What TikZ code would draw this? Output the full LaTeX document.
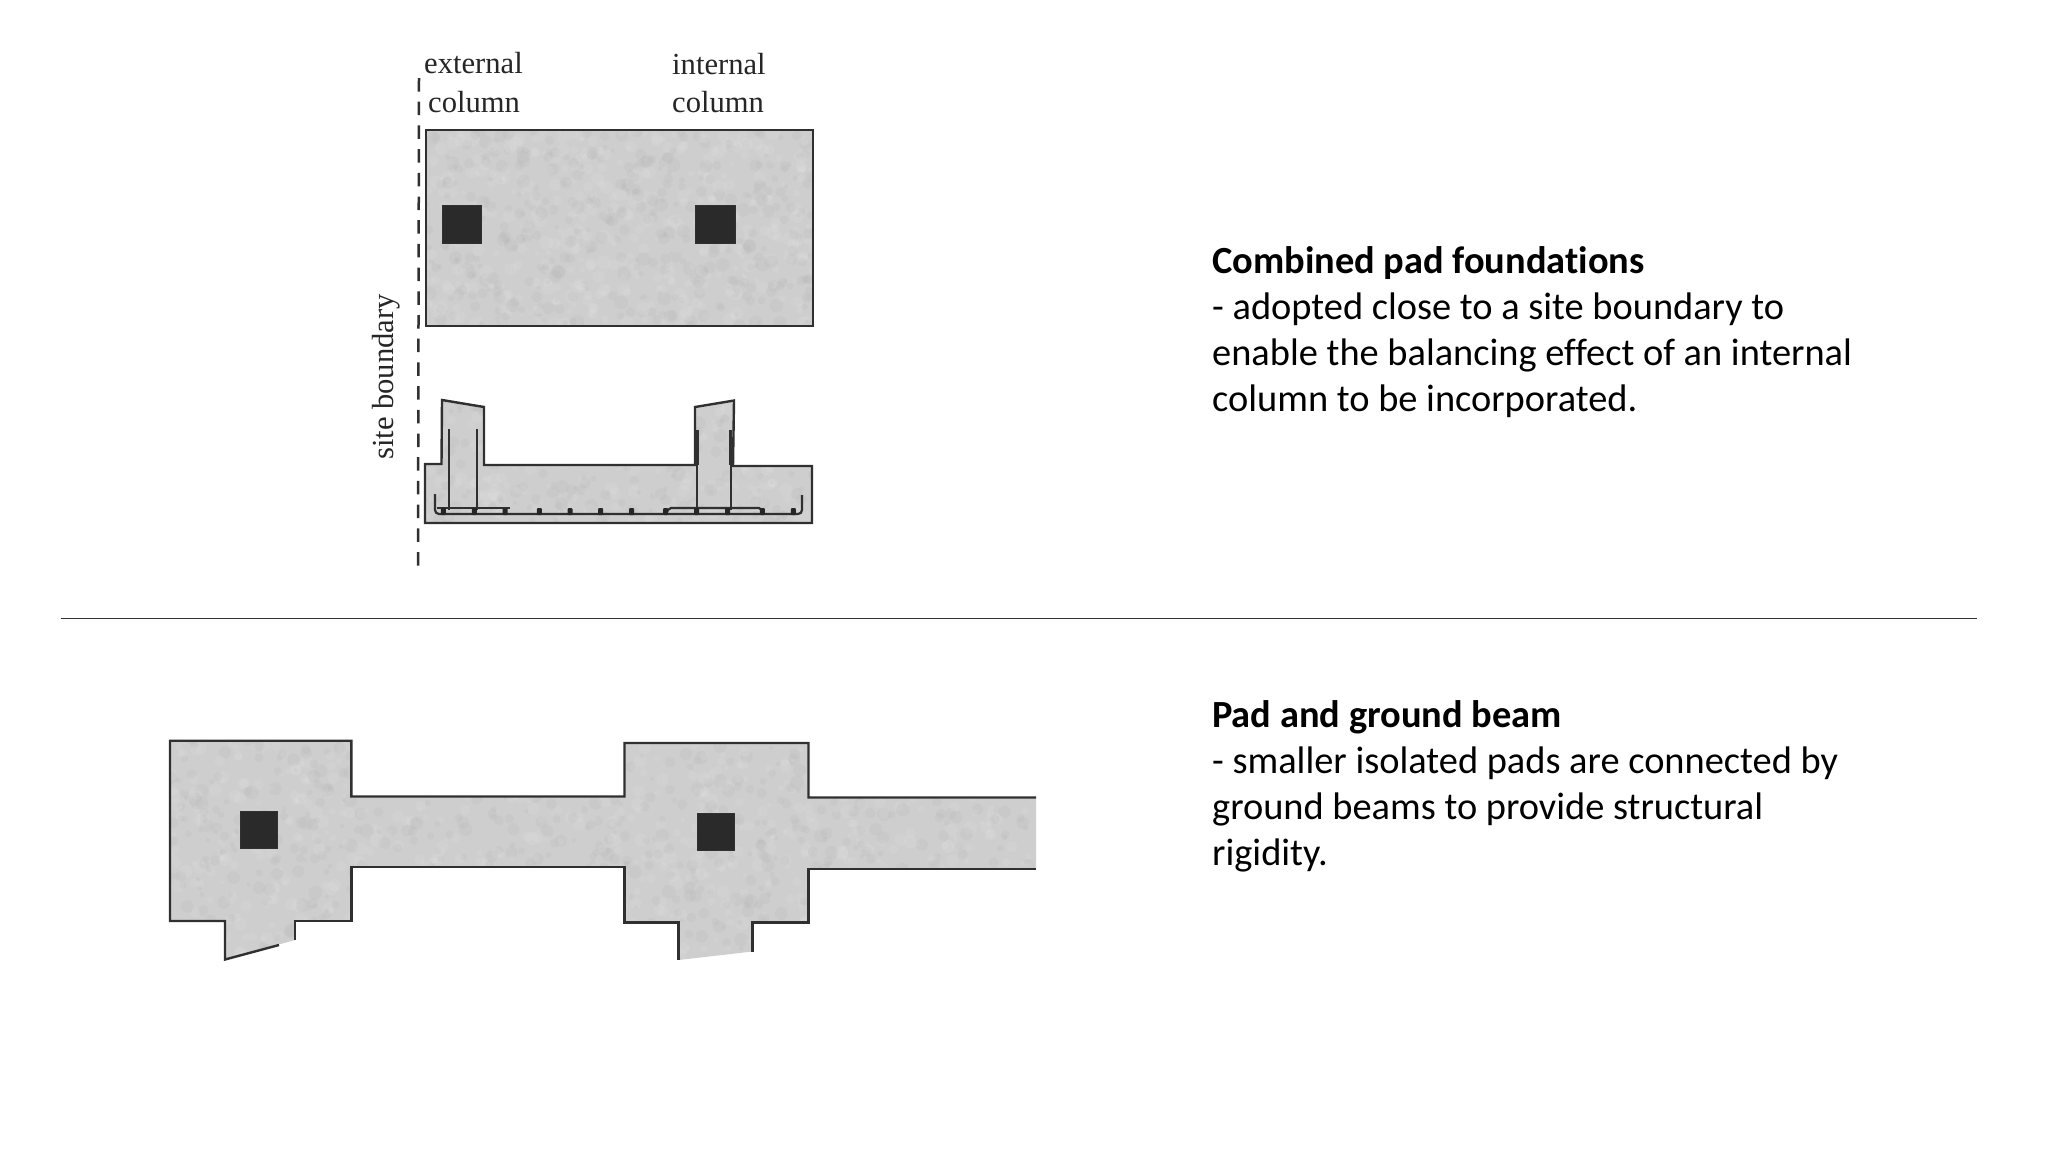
\documentclass[tikz,border=0pt]{standalone}
\usepackage{fontspec}
\setmainfont[Ligatures=NoCommon]{Carlito}
\newfontfamily\scanfont{Liberation Serif}
\tikzset{
  every picture/.style={x=1pt,y=-1pt},
  conc/.style={fill=concgrey,draw=none},
  edge/.style={draw=inkgrey,line width=2.4pt,line join=miter},
  colsq/.style={fill=coldark,draw=inkgrey,line width=.8pt},
  bar/.style={draw=inkgrey,line width=2.2pt},
  rebardot/.style={fill=black!85,draw=none,minimum width=5pt,minimum height=7pt,inner sep=0pt,rounded corners=1pt},
  scanlabel/.style={font=\scanfont\fontsize{30.6}{30.6}\selectfont,text=black!85,inner sep=0pt,anchor=base west},
  notes/.style={font=\fontsize{38.4}{46.2}\selectfont,align=left,inner sep=0pt,anchor=north west,text=black}
}
\definecolor{concgrey}{HTML}{CECECE}
\definecolor{inkgrey}{HTML}{303030}
\definecolor{coldark}{HTML}{2A2A2A}
\newcommand{\mottle}[5]{%
  \foreach \k in {1,...,#5}{%
    \pgfmathsetmacro{\mx}{#1+rnd*#3}%
    \pgfmathsetmacro{\my}{#2+rnd*#4}%
    \pgfmathsetmacro{\mr}{2+rnd*5}%
    \pgfmathsetmacro{\mt}{mod(\k,2)==0?1:0}%
    \ifdim\mt pt>0.5pt
      \fill[white,opacity=.07] (\mx,\my) circle (\mr);
    \else
      \fill[black,opacity=.02] (\mx,\my) circle (\mr);
    \fi
  }%
}
\begin{document}
\begin{tikzpicture}
\pgfmathsetseed{42}
\useasboundingbox (0,0) rectangle (2048,1152);
\fill[white] (0,0) rectangle (2048,1152);

% ---- plan of the combined pad
\def\planpath{(426,130) -- (813,130) -- (813,326) -- (426,326) -- cycle}
\fill[conc] \planpath;
\begin{scope}
  \clip \planpath;
  \mottle{426}{130}{387}{196}{800}
\end{scope}
\draw[edge] \planpath;
\node[colsq,minimum width=39pt,minimum height=38pt,inner sep=0pt] (colA) at (461.5,224) {};
\node[colsq,minimum width=40pt,minimum height=38pt,inner sep=0pt] (colB) at (715.5,224.5) {};

% ---- section through the combined pad
\def\secpath{(442,400) -- (484,407) -- (484,465) -- (695,465) -- (695,407) -- (734,400.5) -- (733,466) -- (812,466) -- (812,523) -- (425,523) -- (425,464) -- (441.5,464) -- cycle}
\fill[conc] \secpath;
\begin{scope}
  \clip \secpath;
  \mottle{425}{400}{387}{123}{400}
\end{scope}
\draw[edge] \secpath;
% column starter bars
\draw[bar] (449,429) -- (449,510);
\draw[bar] (476.7,429) -- (476.7,510);
\draw[bar] (697,430) -- (697,510);
\draw[bar] (730.7,430) -- (730.7,510);
\draw[draw=inkgrey,line width=3.4pt] (697,430) -- (697,465);
\draw[draw=inkgrey,line width=3.4pt] (730.7,430) -- (730.7,465);
% main bottom bar with hooked ends
\draw[bar,rounded corners=4pt] (435,494) -- (435,514) -- (802,514) -- (802,495);
% top short bars
\draw[bar,rounded corners=2pt] (437,508) -- (510,508);
\draw[bar,rounded corners=2pt] (666,514) -- (669,508) -- (761,508) -- (763,514);
% transverse bar dots
\foreach \dx/\dn in {443.3/a,474.3/b,505/c,539.3/d,570/e,600.7/f,631.7/g,665.7/h,696.7/i,727.7/j,762.3/k,793.3/l}
  \node[rebardot] (dot\dn) at (\dx,511.5) {};

% ---- site boundary
\coordinate (siteTop) at (419,78);
\coordinate (siteBot) at (418,567);
\draw[draw=inkgrey,line width=2.5pt,dash pattern=on 13.5pt off 10.2pt] (siteTop) -- (siteBot);

% ---- scanned labels
\node[scanlabel] (extA) at (424,73) {external};
\node[scanlabel] (extB) at (428,112) {column};
\node[scanlabel] (intA) at (672,74) {internal};
\node[scanlabel] (intB) at (672,112) {column};
\node[scanlabel,rotate=90] (site) at (393,460) {site boundary};

% ---- divider
\coordinate (divL) at (60.5,618.3);
\coordinate (divR) at (1977,618.3);
\draw[draw=black!80,line width=1.2pt] (divL) -- (divR);

% ---- pad and ground beam
\def\beampath{(170,740.7) -- (351.4,740.7) -- (351.4,796.5) -- (624.5,796.5) -- (624.5,743) -- (808.5,743) -- (808.5,797.5) -- (1036,797.5) -- (1036,869) -- (808.5,869) -- (808.5,922.5) -- (752.5,922.5) -- (752.5,951.5) -- (678.5,960) -- (678.5,922.5) -- (624.5,922.5) -- (624.5,867) -- (351.4,867) -- (351.4,921) -- (295,921) -- (295,940) -- (225,959.5) -- (225,921) -- (170,921) -- cycle}
\fill[conc] \beampath;
\begin{scope}
  \clip \beampath;
  \mottle{170}{740}{866}{221}{1400}
\end{scope}
\draw[edge] (1036,797.5) -- (808.5,797.5) -- (808.5,743) -- (624.5,743) -- (624.5,796.5) -- (351.4,796.5) -- (351.4,740.7) -- (170,740.7) -- (170,921) -- (225,921) -- (225,959.5) -- (279,945);
\draw[edge] (295,940) -- (295,921) -- (351.4,921) -- (351.4,867) -- (624.5,867) -- (624.5,922.5) -- (678.5,922.5) -- (678.5,960);
\draw[edge] (752.5,951.5) -- (752.5,922.5) -- (808.5,922.5) -- (808.5,869) -- (1036,869);
\node[colsq,minimum width=37pt,minimum height=37pt,inner sep=0pt] (colC) at (259,829.5) {};
\node[colsq,minimum width=37pt,minimum height=37pt,inner sep=0pt] (colD) at (715.5,831.5) {};

% ---- notes
\node[notes] (noteA) at (1212,246) {\textbf{Combined pad foundations}\\- adopted close to a site boundary to\\enable the balancing effect of an internal\\column to be incorporated.};
\node[notes] (noteB) at (1212,700) {\textbf{Pad and ground beam}\\- smaller isolated pads are connected by\\ground beams to provide structural\\rigidity.};
\end{tikzpicture}
\end{document}
